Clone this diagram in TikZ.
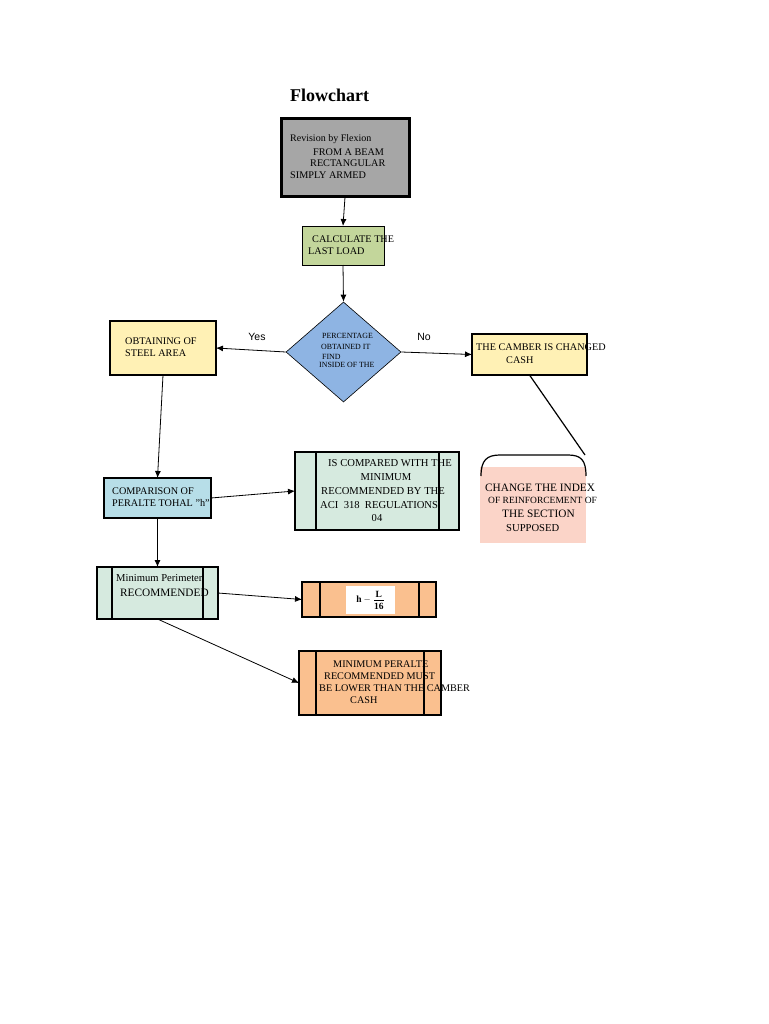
\documentclass[tikz,border=0pt]{standalone}
\usepackage{fontspec}
\setmainfont{Liberation Serif}
\newfontfamily\arialf{Liberation Sans}
\usetikzlibrary{shapes.geometric,arrows.meta}
\definecolor{cgray}{HTML}{A6A6A6}
\definecolor{cgreen}{HTML}{C3D69B}
\definecolor{cblue}{HTML}{8EB4E3}
\definecolor{cyellow}{HTML}{FFF1B5}
\definecolor{cpink}{HTML}{FBD4C8}
\definecolor{clblue}{HTML}{B7DEE8}
\definecolor{clgreen}{HTML}{D6EADF}
\definecolor{corange}{HTML}{FAC08F}
\tikzset{
  box/.style={draw=black, inner sep=0pt, outer sep=0pt},
  thickbox/.style={box, line width=2pt},
  lbl/.style={anchor=west, inner sep=0pt, font=\fontsize{10.2}{11}\selectfont},
  clbl/.style={anchor=center, inner sep=0pt, font=\fontsize{10.6}{11}\selectfont},
  arr/.style={-{Latex[length=7pt,width=6pt]}, line width=0.8pt},
  plain/.style={line width=1.2pt}
}
\begin{document}
\begin{tikzpicture}[x=1pt,y=-1pt]
\useasboundingbox[fill=white] (0,0) rectangle (768,1024);
% title
\node[inner sep=0pt, font=\fontsize{18}{20}\selectfont\bfseries] (title) at (329.5,95) {Flowchart};
% box 1
\node[thickbox, line width=3pt, fill=cgray, minimum width=128pt, minimum height=78pt] (b1) at (345,158) {};
\node[lbl, font=\fontsize{10}{11}\selectfont] (t1a) at (290,139) {Revision by Flexion};
\node[lbl] (t1b) at (313,152) {FROM A BEAM};
\node[lbl] (t1c) at (310,163) {RECTANGULAR};
\node[lbl] (t1d) at (290,175) {SIMPLY ARMED};
% box 2
\node[box, line width=0.6pt, fill=cgreen, minimum width=82pt, minimum height=39pt] (b2) at (343,245.5) {};
\node[lbl] (t2a) at (312,239) {CALCULATE THE};
\node[lbl] (t2b) at (308,251) {LAST LOAD};
% diamond
\node[diamond, draw=black, line width=0.6pt, fill=cblue, inner sep=0pt, minimum width=115pt, minimum height=100pt, aspect=1.15] (d) at (343.5,352) {};
\node[lbl, font=\fontsize{7.9}{8}\selectfont] (tda) at (322,336) {PERCENTAGE};
\node[lbl, font=\fontsize{7.9}{8}\selectfont] (tdb) at (321,347) {OBTAINED IT};
\node[lbl, font=\fontsize{7.9}{8}\selectfont] (tdc) at (322,357) {FIND};
\node[lbl, font=\fontsize{7.9}{8}\selectfont] (tdd) at (319,365) {INSIDE OF THE};
% box 3
\node[thickbox, fill=cyellow, minimum width=106pt, minimum height=54pt] (b3) at (163,348) {};
\node[lbl] (t3a) at (125,341) {OBTAINING OF};
\node[lbl] (t3b) at (125,353) {STEEL AREA};
% box 4
\node[thickbox, fill=cyellow, minimum width=115pt, minimum height=41pt] (b4) at (529.5,354.5) {};
\node[lbl] (t4a) at (476,347) {THE CAMBER IS CHANGED};
\node[lbl] (t4b) at (506,360) {CASH};
% yes / no
\node[inner sep=0pt, font=\arialf\fontsize{10.5}{12}\selectfont] (yes) at (257,337) {Yes};
\node[inner sep=0pt, font=\arialf\fontsize{10.5}{12}\selectfont] (no) at (424,337) {No};
\draw[arr] (d.west) -- (b3.east);
\draw[arr] (d.east) -- (b4.west);
\draw[arr] (b1.south) -- (b2.north);
\draw[arr] (b2.south) -- (d.north);
% pink rounded shape
\node[inner sep=0pt, fill=cpink, minimum width=106pt, minimum height=76pt] (b10) at (533,505) {};
\coordinate (b10tr) at (585,455);
\draw[plain] (481,476) .. controls (481,460) and (487,455) .. (500,455) -- (568,455) .. controls (581,455) and (586,460) .. (586,476);
\node[lbl, font=\fontsize{11.3}{12}\selectfont] (t10a) at (485,488) {CHANGE THE INDEX};
\node[lbl, font=\fontsize{9.5}{10}\selectfont] (t10b) at (488,500) {OF REINFORCEMENT OF};
\node[lbl, font=\fontsize{11.3}{12}\selectfont] (t10c) at (502,514) {THE SECTION};
\node[lbl, font=\fontsize{10.6}{12}\selectfont] (t10d) at (506,528) {SUPPOSED};
\draw[plain] (b4.south) -- (b10tr);
% box 5
\node[thickbox, fill=clblue, minimum width=107pt, minimum height=40pt] (b5) at (157.5,498) {};
\node[lbl] (t5a) at (112,491) {COMPARISON OF};
\node[lbl] (t5b) at (112,503) {PERALTE TOHAL "h"};
\draw[arr] (b3.south) -- (b5.north);
% box 6
\node[thickbox, line width=1.5pt, fill=clgreen, minimum width=164pt, minimum height=78pt] (b6) at (377,491) {};
\draw[line width=1.5pt] (316,452) -- (316,530) (439,452) -- (439,530);
\node[lbl, font=\fontsize{10.6}{11}\selectfont] (t6a) at (328,463) {IS COMPARED WITH THE};
\node[clbl] (t6b) at (386,477) {MINIMUM};
\node[lbl, font=\fontsize{10.6}{11}\selectfont] (t6c) at (321,491) {RECOMMENDED BY THE};
\node[lbl, font=\fontsize{10.6}{11}\selectfont] (t6d) at (320,505) {ACI\ \ 318\ \ REGULATIONS};
\node[clbl] (t6e) at (377,518) {04};
\draw[arr] (b5.east) -- (b6.west);
% box 7
\node[box, line width=1.2pt, fill=clgreen, minimum width=121pt, minimum height=52pt] (b7) at (157.5,593) {};
\draw[line width=1.2pt] (112,567) -- (112,619) (203,567) -- (203,619);
\node[lbl, font=\fontsize{10.6}{11}\selectfont] (t7a) at (116,578) {Minimum Perimeter};
\node[lbl, font=\fontsize{11.3}{12}\selectfont] (t7b) at (120,593) {RECOMMENDED};
\draw[arr] (b5.south) -- (b7.north);
% box 8
\node[thickbox, line width=1.5pt, fill=corange, minimum width=134pt, minimum height=35pt] (b8) at (369,599.5) {};
\draw[line width=1.5pt] (320,582) -- (320,617) (419,582) -- (419,617);
\node[fill=white, inner sep=0pt, minimum width=49pt, minimum height=28pt, font=\fontsize{9.5}{10}\selectfont] (f8) at (370.5,600) {$\displaystyle\mathbf{h}-\frac{\mathbf{L}}{\mathbf{16}}$};
\draw[arr] (b7.east) -- (b8.west);
% box 9
\node[thickbox, line width=1.5pt, fill=corange, minimum width=142pt, minimum height=64pt] (b9) at (370,683) {};
\draw[line width=1.5pt] (316,651) -- (316,715) (424,651) -- (424,715);
\node[lbl] (t9a) at (333,664) {MINIMUM PERALTE};
\node[lbl] (t9b) at (324,676) {RECOMMENDED MUST};
\node[lbl] (t9c) at (319,688) {BE LOWER THAN THE CAMBER};
\node[lbl] (t9d) at (350,700) {CASH};
\draw[arr] (b7.south) -- (b9.west);
\end{tikzpicture}
\end{document}
